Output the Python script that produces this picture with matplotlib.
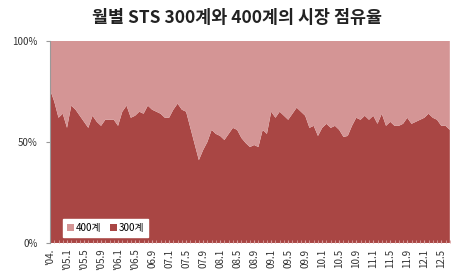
import matplotlib.pyplot as plt
import numpy as np

plt.rcParams['font.family'] = ['Noto Sans CJK KR', 'DejaVu Sans']

title = "월별 STS 300계와 400계의 시장 점유율"

# monthly share of 300-series (%), Sep 2004 .. Jul 2012
share_300 = [76, 70, 62, 64, 57, 68, 66, 63, 60, 57,
             63, 60, 58, 61, 61, 61, 58, 65, 68, 62,
             63, 65, 64, 68, 66, 65, 64, 62, 62, 66,
             69, 66, 65, 57, 49, 41, 46, 50, 56, 54,
             53, 51, 54, 57, 56, 52, 49.5, 47.5, 48.5, 47.5,
             56, 54, 65, 62, 65, 63, 61, 64, 67, 65,
             63, 57, 58, 53, 57, 59, 57, 58, 56, 52.5,
             53, 58, 62, 61, 63, 61, 63, 59, 64, 58,
             60, 58, 58, 59, 62, 59, 60, 61, 62, 64,
             62, 61, 58, 58, 56]
share_400 = [100 - v for v in share_300]

tick_labels = ["'04.", "'05.1", "'05.5", "'05.9", "'06.1", "'06.5", "06.9",
               "07.1", "07.5", "07.9", "08.1", "08.5", "08.9", "09.1",
               "09.5", "09.9", "10.1", "10.5", "10.9", "11.1", "11.5",
               "11.9", "12.1", "12.5"]

dark = '#A94644'
light = '#D49595'

x = np.arange(len(share_300))

fig = plt.figure(figsize=(4.74, 2.78), dpi=100)
ax = fig.add_axes([0.1055, 0.126, 0.8435, 0.7265])

ax.stackplot(x, share_300, share_400, colors=[dark, light],
             labels=['300계', '400계'], linewidth=0)

ax.set_xlim(0, len(x) - 1)
ax.set_ylim(0, 100)
ax.set_yticks([0, 50, 100])
ax.set_yticklabels(['0%', '50%', '100%'], fontsize=7, color='#333333')
ax.set_xticks(x[::4])
ax.set_xticklabels(tick_labels, rotation=90, fontsize=7, color='#333333')
ax.set_xticks(x, minor=True)
ax.tick_params(axis='x', which='both', direction='in', length=2.5,
               color='#d9a0a0', pad=4)
ax.tick_params(axis='y', length=3, color='#999999', pad=6)

for s in ['top', 'right', 'bottom']:
    ax.spines[s].set_visible(False)
ax.spines['left'].set_color('#999999')
ax.spines['left'].set_linewidth(0.8)

handles, labels = ax.get_legend_handles_labels()
leg = ax.legend(handles[::-1], labels[::-1], loc='lower left',
                bbox_to_anchor=(0.02, 0.005), ncol=2, fontsize=7,
                frameon=True, fancybox=False, framealpha=1,
                edgecolor='white', handlelength=0.7, handleheight=0.7,
                handletextpad=0.2, columnspacing=0.9, borderpad=0.4)

fig.text(0.5, 0.935, title, ha='center', va='center', fontsize=12.5,
         fontweight='bold', color='#222222')

fig.savefig('out.png', dpi=100)
